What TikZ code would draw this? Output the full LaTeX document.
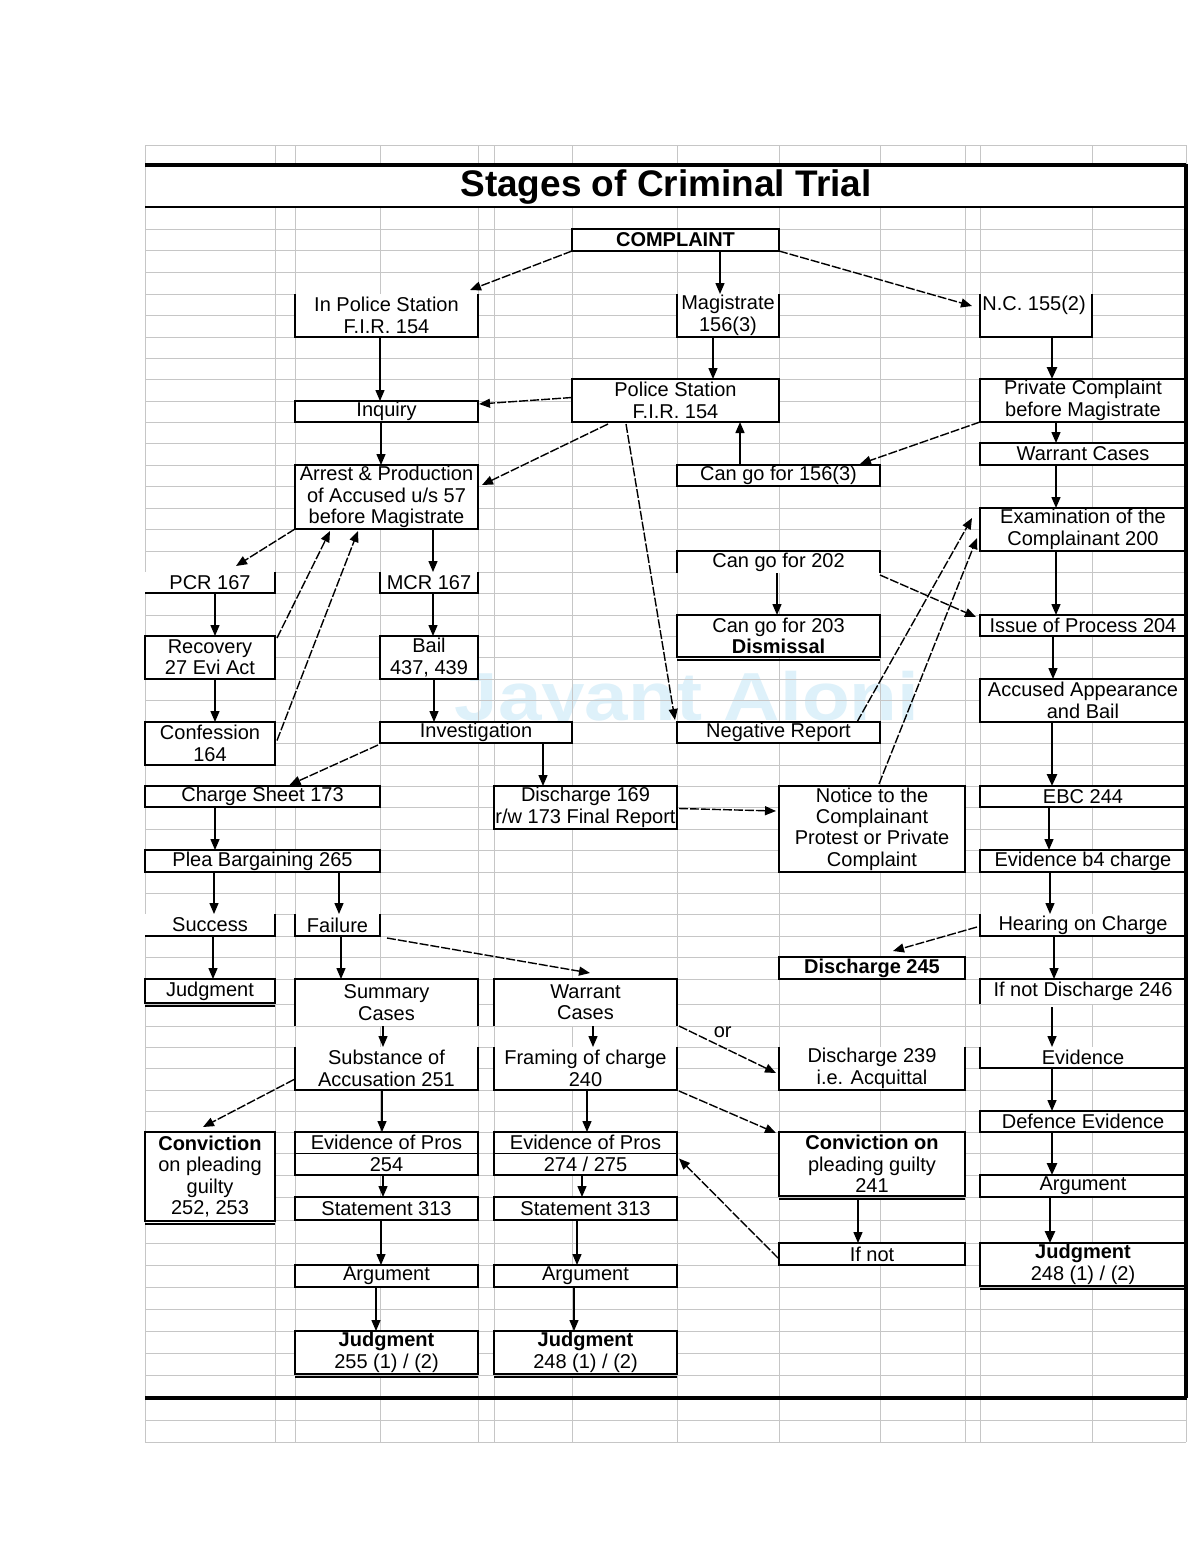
\documentclass[tikz,border=0pt]{standalone}
\usepackage{fontspec}
\setmainfont{Liberation Sans}
\usetikzlibrary{arrows.meta,calc}
\definecolor{gridc}{RGB}{198,198,198}
\definecolor{wmc}{RGB}{222,241,250}
\newcommand\cellfont{\fontsize{10}{10.7}\selectfont}
\newcommand\cellnode[7]{\node[#1, minimum width={(#5-#3)*0.5pt}, minimum height={(#6-#4)*0.5pt}] (#2) at ({(#3+#5)/2},{(#4+#6)/2}) {#7};}
\newcommand\bordLBR[1]{\draw[edge] (#1.north west) -- (#1.south west) -- (#1.south east) -- (#1.north east);}
\newcommand\bordTLR[1]{\draw[edge] (#1.south west) -- (#1.north west) -- (#1.north east) -- (#1.south east);}
\newcommand\bordRB[1]{\draw[edge] (#1.north east) -- (#1.south east) -- (#1.south west);}
\newcommand\bordLB[1]{\draw[edge] (#1.north west) -- (#1.south west) -- (#1.south east);}
\newcommand\bordTL[1]{\draw[edge] (#1.south west) -- (#1.north west) -- (#1.north east);}
\newcommand\dblbot[1]{\draw[line width=0.7pt] ([yshift=-1.4pt]#1.south west) -- ([yshift=-1.4pt]#1.south east);}
\tikzset{
  cell/.style={inner sep=0pt, outer sep=0pt, align=center, font=\cellfont, fill=white},
  box/.style={cell, draw, line width=0.8pt},
  edge/.style={line width=0.8pt},
  arr/.style={-{Triangle[length=5.5pt,width=4.5pt]}, line width=0.7pt},
  darr/.style={arr, dash pattern=on 4.5pt off 1pt},
  tarr/.style={-{Triangle[length=6pt,width=5pt]}, line width=1.3pt},
  gridline/.style={line width=0.5pt, draw=gridc},
}
\begin{document}
\begin{tikzpicture}[x=0.5pt,y=-0.5pt]
\useasboundingbox[fill=white] (0,0) rectangle (1200,1553);
% watermark
\node[text=wmc, font=\fontsize{34}{36}\selectfont\bfseries] (wmark) at (687,703) {\scalebox{1.15}[1]{Jayant Aloni}};
% grid
\foreach \yy in {145,165,207,229,250,272,294,315,337,358,379,401,422,443,465,486,508,529,551,572,593,615,636,657,679,700,722,743,765,786,807,829,850,872,893,914,936,957,979,1004,1026,1047,1068,1090,1111,1132,1153,1175,1197,1220,1243,1265,1287,1309,1331,1353,1375,1398,1420,1442}
  \draw[gridline] (145,\yy) -- (1186,\yy);
\foreach \xx in {145,275,295,380,478,494,572,677,779,880,965,980,1092,1186}
  \draw[gridline] (\xx,145) -- (\xx,1442);
% title
\fill[white] (146,166) rectangle (1185,206);
\node[font=\fontsize{18.5}{20}\selectfont\bfseries] (title) at (666,187) {Stages of Criminal Trial};

% ---------- nodes ----------
\cellnode{box, line width=1.2pt, font={\cellfont\bfseries}}{complaint}{572}{229}{779}{251}{COMPLAINT}
\cellnode{cell}{inps}{295}{294}{478}{337}{In Police Station\\F.I.R. 154} \bordLBR{inps}
\cellnode{cell}{mag}{677}{294}{779}{337}{Magistrate\\156(3)} \bordLBR{mag}
\cellnode{cell, label={[anchor=north west, inner sep=1pt, font=\cellfont]north west:N.C. 155(2)}}{nc}{980}{294}{1092}{337}{} \bordLBR{nc}
\cellnode{box}{ps}{572}{379}{779}{422}{Police Station\\F.I.R. 154}
\cellnode{box}{inq}{295}{401}{478}{422}{Inquiry}
\cellnode{box}{priv}{980}{379}{1186}{422}{Private Complaint\\before Magistrate}
\cellnode{box}{warrR}{980}{443}{1186}{465}{Warrant Cases}
\cellnode{box}{cg156}{677}{465}{880}{486}{Can go for 156(3)}
\cellnode{box}{arrest}{295}{465}{478}{529}{Arrest \& Production\\of Accused u/s 57\\before Magistrate}
\cellnode{box}{exam}{980}{508}{1186}{551}{Examination of the\\Complainant 200}
\cellnode{cell}{cg202}{677}{551}{880}{573}{Can go for 202} \bordTLR{cg202}
\cellnode{cell}{pcr}{145}{572}{275}{593}{PCR 167} \bordRB{pcr}
\cellnode{cell}{mcr}{380}{572}{478}{593}{MCR 167} \bordLBR{mcr}
\cellnode{box}{cg203}{677}{615}{880}{657}{Can go for 203\\\textbf{Dismissal}} \dblbot{cg203}
\cellnode{box}{iop}{980}{615}{1186}{636}{Issue of Process 204}
\cellnode{box}{recov}{145}{636}{275}{679}{Recovery\\27 Evi Act}
\cellnode{box}{bail}{380}{636}{478}{679}{Bail\\437, 439}
\cellnode{box}{acc}{980}{679}{1186}{722}{Accused Appearance\\and Bail}
\cellnode{box}{conf}{145}{722}{275}{765}{Confession\\164}
\cellnode{box}{inv}{380}{722}{572}{743}{Investigation}
\cellnode{box}{negrep}{677}{722}{880}{743}{Negative Report}
\cellnode{box}{cs}{145}{786}{380}{807}{Charge Sheet 173}
\cellnode{box}{d169}{494}{786}{677}{829}{Discharge 169\\r/w 173 Final Report}
\cellnode{box}{notice}{779}{786}{965}{872}{Notice to the\\Complainant\\Protest or Private\\Complaint}
\cellnode{box}{ebc}{980}{786}{1186}{807}{EBC 244}
\cellnode{box}{plea}{145}{850}{380}{872}{Plea Bargaining 265}
\cellnode{box}{evb4}{980}{850}{1186}{872}{Evidence b4 charge}
\cellnode{cell}{success}{145}{914}{275}{936}{Success} \bordRB{success}
\cellnode{cell}{failure}{295}{914}{380}{936}{Failure} \bordLBR{failure}
\cellnode{cell}{hearing}{980}{914}{1186}{936}{Hearing on Charge} \bordLB{hearing}
\cellnode{box, font={\cellfont\bfseries}}{d245}{779}{957}{965}{979}{Discharge 245}
\cellnode{box}{judgL}{145}{979}{275}{1003}{Judgment} \dblbot{judgL}
\cellnode{cell}{ifnot246}{980}{979}{1186}{1004}{If not Discharge 246} \bordTL{ifnot246}
\cellnode{cell}{summary}{295}{979}{478}{1026}{Summary\\Cases} \bordTLR{summary}
\cellnode{cell}{warrant}{494}{979}{677}{1026}{Warrant\\Cases} \bordTLR{warrant}
\cellnode{cell}{subst}{295}{1047}{478}{1090}{Substance of\\Accusation 251} \bordLBR{subst}
\cellnode{cell}{framing}{494}{1047}{677}{1090}{Framing of charge\\240} \bordLBR{framing}
\cellnode{cell}{d239}{779}{1047}{965}{1090}{Discharge 239\\i.e. Acquittal} \bordLBR{d239}
\cellnode{cell}{evid}{980}{1047}{1186}{1068}{Evidence} \bordLB{evid}
\cellnode{box}{defence}{980}{1111}{1186}{1132}{Defence Evidence}
\cellnode{box}{convL}{145}{1132}{275}{1221}{\textbf{Conviction}\\on pleading\\guilty\\252, 253} \dblbot{convL}
\cellnode{box}{ep254}{295}{1132}{478}{1175}{Evidence of Pros\\254}
\draw[edge] (ep254.west) -- (ep254.east);
\cellnode{box}{ep274}{494}{1132}{677}{1175}{Evidence of Pros\\274 / 275}
\draw[edge] (ep274.west) -- (ep274.east);
\cellnode{box}{conv241}{779}{1132}{965}{1196}{\textbf{Conviction on}\\pleading guilty\\241} \dblbot{conv241}
\cellnode{box}{argR}{980}{1175}{1186}{1197}{Argument}
\cellnode{box}{st1}{295}{1197}{478}{1220}{Statement 313}
\cellnode{box}{st2}{494}{1197}{677}{1220}{Statement 313}
\cellnode{box}{ifnot}{779}{1243}{965}{1265}{If not}
\cellnode{box}{judgR}{980}{1243}{1186}{1286}{\textbf{Judgment}\\248 (1) / (2)} \dblbot{judgR}
\cellnode{box}{arg1}{295}{1265}{478}{1287}{Argument}
\cellnode{box}{arg2}{494}{1265}{677}{1287}{Argument}
\cellnode{box}{judg1}{295}{1331}{478}{1374}{\textbf{Judgment}\\255 (1) / (2)} \dblbot{judg1}
\cellnode{box}{judg2}{494}{1331}{677}{1374}{\textbf{Judgment}\\248 (1) / (2)} \dblbot{judg2}

% frame
\draw[line width=1.8pt] (145,165) -- (1186,165);
\draw[line width=1.2pt] (145,207) -- (1186,207);
\draw[line width=1.8pt] (1186,164) -- (1186,1398);
\draw[line width=1.8pt] (145,1398) -- (1187,1398);

% ---------- connectors ----------
% top
\draw[darr] (complaint.south west) -- ($(inps.north east)+(-8,-4)$);
\draw[arr] (complaint.south -| 720,0) -- (mag.north -| 720,0);
\draw[darr] (complaint.south east) -- ($(nc.north west)+(-8,12)$);
\draw[arr] (inps.south -| 380,0) -- (inq.north -| 380,0);
\draw[arr] (mag.south -| 713,0) -- (ps.north -| 713,0);
\draw[tarr] (nc.south -| 1052,0) -- (priv.north -| 1052,0);
\draw[darr] ($(ps.west)+(0,-3)$) -- ($(inq.north east)+(1,3)$);
\draw[arr] (priv.south -| 1056,0) -- (warrR.north -| 1056,0);
\draw[darr] (priv.south west) -- ($(cg156.north east)+(-20,-1)$);
\draw[arr] (cg156.north -| 740,0) -- (ps.south -| 740,0);
\draw[arr] (inq.south -| 381,0) -- (arrest.north -| 381,0);
\draw[darr] ($(ps.south west)+(36,2)$) -- ($(arrest.north east)+(4,20)$);
\draw[darr] ($(ps.south west)+(54,2)$) -- ($(negrep.north west)+(-2,-2)$);
\draw[arr] (warrR.south -| 1056,0) -- (exam.north -| 1056,0);
% left block
\draw[darr] (arrest.south west) -- ($(pcr.north)+(26,-6)$);
\draw[arr] (arrest.south -| 433,0) -- (mcr.north -| 433,0);
\draw[darr] ($(recov.north east)+(2,2)$) -- ($(arrest.south west)+(35,2)$);
\draw[darr] ($(conf.east)+(2,-3)$) -- ($(arrest.south west)+(63,2)$);
\draw[arr] (pcr.south -| 215,0) -- (recov.north -| 215,0);
\draw[arr] (mcr.south -| 433,0) -- (bail.north -| 433,0);
\draw[arr] (recov.south -| 215,0) -- (conf.north -| 215,0);
\draw[arr] (bail.south -| 434,0) -- (inv.north -| 434,0);
\draw[darr] ($(inv.south west)+(-2,2)$) -- ($(cs.north)+(27,-1)$);
\draw[arr] (inv.south -| 543,0) -- (d169.north -| 543,0);
\draw[darr] ($(d169.east)+(2,1)$) -- ($(notice.west)+(-3,-18)$);
% right block
\draw[arr] (exam.south -| 1056,0) -- (iop.north -| 1056,0);
\draw[arr] (cg202.south -| 777,0) -- (cg203.north -| 777,0);
\draw[darr] ($(cg202.south east)+(0,2)$) -- ($(iop.north west)+(-4,2)$);
\draw[darr] ($(negrep.north east)+(-23,0)$) -- ($(exam.north west)+(-8,10)$);
\draw[darr] ($(notice.north)+(7,-2)$) -- ($(exam.west)+(-3,8.5)$);
\draw[arr] (iop.south -| 1053,0) -- (acc.north -| 1053,0);
\draw[tarr] (acc.south -| 1052,0) -- (ebc.north -| 1052,0);
\draw[arr] (ebc.south -| 1049,0) -- (evb4.north -| 1049,0);
\draw[arr] (evb4.south -| 1050,0) -- (hearing.north -| 1050,0);
\draw[darr] ($(hearing.west)+(-3,2)$) -- ($(d245.north)+(21,-6)$);
\draw[arr] (hearing.south -| 1054,0) -- (ifnot246.north -| 1054,0);
\draw[arr] ($(ifnot246.south -| 1052,0)+(0,3)$) -- (evid.north -| 1052,0);
\draw[arr] (evid.south -| 1052,0) -- (defence.north -| 1052,0);
\draw[tarr] (defence.south -| 1052,0) -- (argR.north -| 1052,0);
\draw[tarr] (argR.south -| 1050,0) -- (judgR.north -| 1050,0);
% plea block
\draw[arr] (cs.south -| 215,0) -- (plea.north -| 215,0);
\draw[arr] (plea.south -| 214,0) -- (success.north -| 214,0);
\draw[arr] (plea.south -| 339,0) -- (failure.north -| 339,0);
\draw[arr] (success.south -| 213,0) -- (judgL.north -| 213,0);
\draw[arr] (failure.south -| 341,0) -- (summary.north -| 341,0);
\draw[darr] ($(failure.south east)+(7,2)$) -- ($(warrant.north)+(4.5,-6)$);
\draw[arr] (summary.south -| 383,0) -- (subst.north -| 383,0);
\draw[arr] (warrant.south -| 593,0) -- (framing.north -| 593,0);
\draw[darr] ($(warrant.south east)+(2,0)$) -- node[pos=0.45, above=1pt, font=\cellfont] (orlbl) {or} ($(d239.west)+(-3,4.5)$);
\draw[darr] ($(subst.west)+(-1,11)$) -- ($(convL.north)+(-7,-5)$);
\draw[arr] (subst.south -| 382,0) -- (ep254.north -| 382,0);
\draw[arr] (framing.south -| 587,0) -- (ep274.north -| 587,0);
\draw[darr] ($(framing.south east)+(2,1)$) -- ($(conv241.north west)+(-3,1)$);
\draw[arr] (ep254.south -| 383,0) -- (st1.north -| 383,0);
\draw[arr] (ep274.south -| 582,0) -- (st2.north -| 582,0);
\draw[arr] ($(conv241.south -| 858,0)+(0,3)$) -- (ifnot.north -| 858,0);
\draw[darr] ($(ifnot.west)+(-1,4)$) -- ($(ep274.east)+(2,5)$);
\draw[arr] (st1.south -| 381,0) -- (arg1.north -| 381,0);
\draw[arr] (st2.south -| 577,0) -- (arg2.north -| 577,0);
\draw[arr] (arg1.south -| 376,0) -- (judg1.north -| 376,0);
\draw[arr] (arg2.south -| 574,0) -- (judg2.north -| 574,0);
\end{tikzpicture}
\end{document}
